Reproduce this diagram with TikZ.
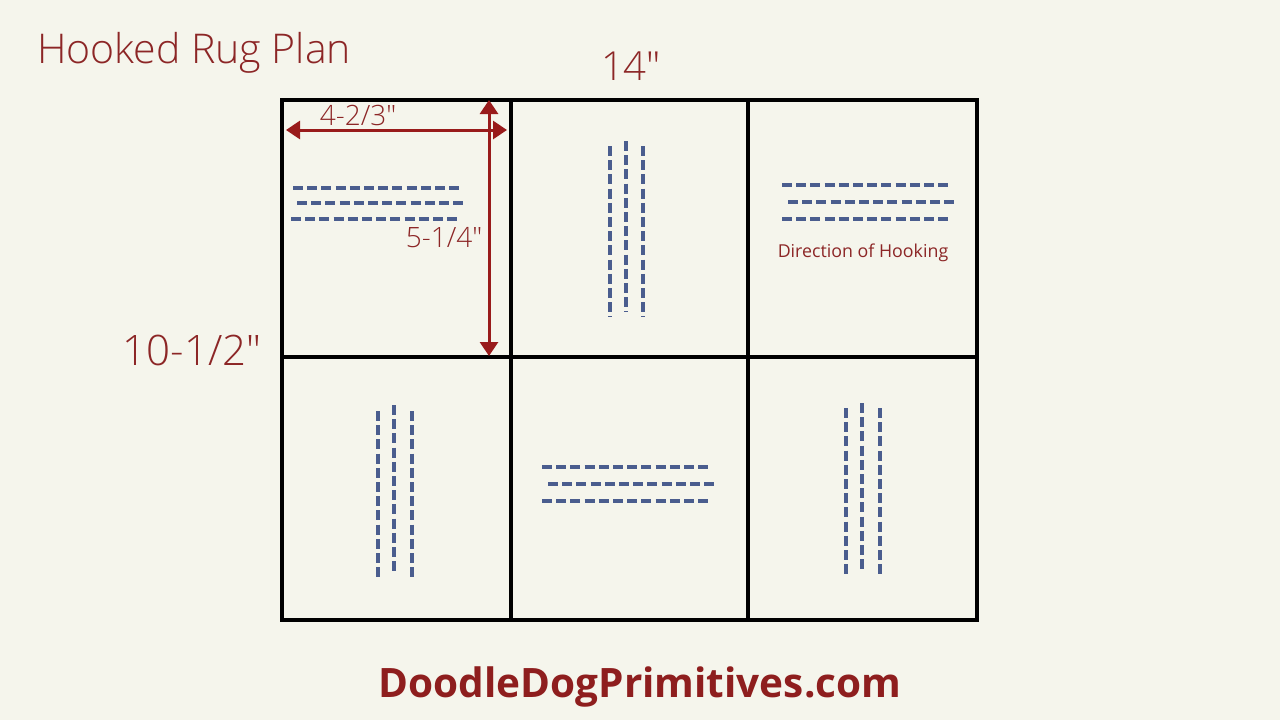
\documentclass[tikz,border=0pt]{standalone}
\usepackage{fontspec}
\setmainfont{Open Sans}[Ligatures=TeXOff]
\IfFontExistsTF{Open Sans Light}
  {\newfontfamily\lightfont{Open Sans Light}[Ligatures=TeXOff]}
  {\newfontfamily\lightfont{Open Sans}[Ligatures=TeXOff]}
\usetikzlibrary{arrows.meta}
\definecolor{bg}{HTML}{F5F5EC}
\definecolor{rugred}{HTML}{8C2626}
\definecolor{footred}{HTML}{8E1E1E}
\definecolor{arrowred}{HTML}{991B1B}
\definecolor{hookblue}{HTML}{4A5D8E}
\begin{document}
\begin{tikzpicture}[x=1pt,y=-1pt,
  gridline/.style={line width=3.3pt,black,line cap=rect},
  hook/.style={hookblue,line width=4pt,dash pattern=on 10pt off 4.2pt},
  dim/.style={arrowred,line width=3pt,{Triangle[width=18pt,length=14pt]}-{Triangle[width=18pt,length=14pt]}},
  lbl/.style={text=rugred,inner sep=0pt,anchor=base}]
\fill[bg] (0,0) rectangle (1280,720);
\useasboundingbox (0,0) rectangle (1280,720);

% titles
\node[lbl,anchor=base west,font=\lightfont\fontsize{41}{49}\selectfont] (title) at (37,63) {Hooked Rug Plan};
\node[lbl,font=\lightfont\fontsize{40}{48}\selectfont] (width) at (631,80) {14"};
\node[lbl,font=\lightfont\fontsize{42}{50}\selectfont] (height) at (192,365) {10-1/2"};
\node[text=footred,inner sep=0pt,anchor=base,font=\fontsize{40.5}{48}\selectfont\bfseries] (site) at (640,697) {DoodleDogPrimitives.com};

% grid
\draw[gridline] (282,100) rectangle (977,620);
\draw[gridline] (511,100) -- (511,620);
\draw[gridline] (748,100) -- (748,620);
\draw[gridline] (282,357) -- (977,357);

% cell 1 (horizontal)
\draw[hook] (293,188) -- (463,188);
\draw[hook] (297,203) -- (467,203);
\draw[hook] (291,219) -- (461,219);
% cell 2 (vertical)
\draw[hook] (610,146) -- (610,317);
\draw[hook] (626,141) -- (626,312);
\draw[hook] (643,146) -- (643,317);
% cell 3 (horizontal)
\draw[hook] (782,185) -- (952,185);
\draw[hook] (788,202) -- (958,202);
\draw[hook] (782,219) -- (952,219);
\node[lbl,font=\fontsize{17.8}{21}\selectfont] (dir) at (863,257) {Direction of Hooking};
% cell 4 (vertical)
\draw[hook] (378,411) -- (378,581);
\draw[hook] (394,405) -- (394,575);
\draw[hook] (412,411) -- (412,581);
% cell 5 (horizontal)
\draw[hook] (542,467) -- (712,467);
\draw[hook] (548,484) -- (718,484);
\draw[hook] (542,501) -- (712,501);
% cell 6 (vertical)
\draw[hook] (846,408) -- (846,578);
\draw[hook] (862,403) -- (862,573);
\draw[hook] (880,408) -- (880,578);

% dimensions
\coordinate (hl) at (286,130);
\coordinate (hr) at (507,130);
\coordinate (vt) at (489,100);
\coordinate (vb) at (489,356);
\draw[dim] (hl) -- (hr);
\draw[dim] (vt) -- (vb);
\node[lbl,font=\lightfont\fontsize{28}{32}\selectfont] (wcell) at (358,125) {4-2/3"};
\node[lbl,font=\lightfont\fontsize{28}{32}\selectfont] (hcell) at (444,247) {5-1/4"};
\end{tikzpicture}
\end{document}
